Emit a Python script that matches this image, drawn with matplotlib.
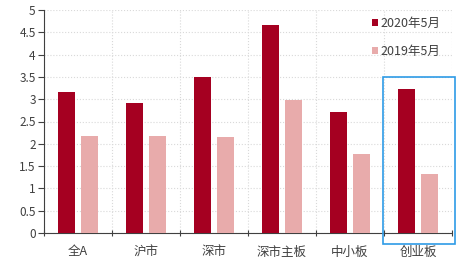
import matplotlib
matplotlib.use('Agg')
import matplotlib.pyplot as plt
import numpy as np
from matplotlib.patches import Rectangle

plt.rcParams['font.family'] = ['Noto Sans CJK SC', 'DejaVu Sans']

cats = ['全A', '沪市', '深市', '深市主板', '中小板', '创业板']
v2020 = [3.16, 2.91, 3.50, 4.66, 2.72, 3.23]
v2019 = [2.17, 2.18, 2.15, 2.99, 1.77, 1.32]

fig = plt.figure(figsize=(4.62, 2.67), dpi=100)
ax = fig.add_axes([44/462, 34/267, 408/462, 223/267])

x = np.arange(len(cats))
ax.bar(x - 0.17, v2020, width=0.25, color='#A50021', label='2020年5月', zorder=3)
ax.bar(x + 0.17, v2019, width=0.25, color='#E8ABAB', label='2019年5月', zorder=3)

ax.set_xlim(-0.5, len(cats) - 0.5)
ax.set_ylim(0, 5)
ax.set_yticks(np.arange(0, 5.01, 0.5))
ax.set_yticklabels(['0', '0.5', '1', '1.5', '2', '2.5', '3', '3.5', '4', '4.5', '5'])
ax.set_xticks(np.arange(-0.5, len(cats), 1))
ax.set_xticklabels([])
ax.set_xticks(x, minor=True)
ax.set_xticklabels(cats, minor=True)
ax.tick_params(axis='x', which='minor', length=0, pad=9, labelsize=9, colors='#404040')
ax.tick_params(axis='x', which='major', length=4, direction='inout', color='#404040')
ax.tick_params(axis='y', length=4, color='#404040', labelsize=8.5, labelcolor='#404040', pad=2)

ax.grid(True, which='major', color='#D9D9D9', linestyle=':', linewidth=0.8, zorder=0)
for s in ['top', 'right']:
    ax.spines[s].set_visible(False)
for s in ['left', 'bottom']:
    ax.spines[s].set_color('#404040')

ax.legend(loc='upper right', bbox_to_anchor=(1.0, 1.02), frameon=False, fontsize=9,
          handlelength=0.5, handleheight=0.5, handletextpad=0.2, labelspacing=1.2,
          labelcolor='#404040')

box = Rectangle((383/462, (267-244)/267), 72/462, 167/267, transform=fig.transFigure,
                fill=False, edgecolor='#2E9BE6', linewidth=1.2, clip_on=False)
fig.patches.append(box)

fig.savefig('out.png', dpi=100)
